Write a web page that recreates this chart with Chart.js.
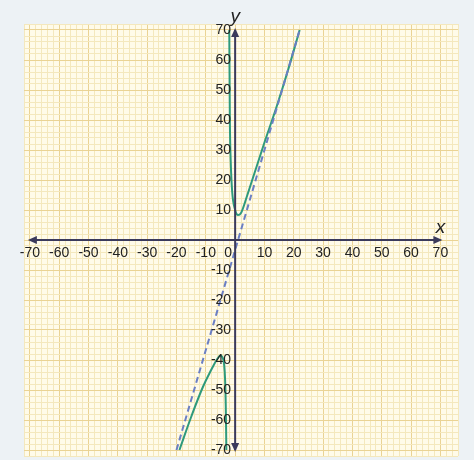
<!DOCTYPE html>
<html>
<head>
<meta charset="utf-8">
<script src="https://cdn.jsdelivr.net/npm/chart.js@4"></script>
<style>
  body { margin: 0; background: #edf2f5; }
  #wrap { width: 474px; height: 460px; }
</style>
</head>
<body>
<div id="wrap"><canvas id="grafico"></canvas></div>
<script>
// dados
const curvaSuperior = [
    {x: -2, y: 70}, {x: -1.9, y: 55}, {x: -1.8, y: 40}, {x: -1.5, y: 26}, {x: -1, y: 16},
    {x: 0, y: 10}, {x: 1, y: 8.3}, {x: 2, y: 9}, {x: 4, y: 14.5}, {x: 6, y: 20.5},
    {x: 8, y: 26.5}, {x: 10, y: 32.5}, {x: 14, y: 44}, {x: 18, y: 56.5}, {x: 22, y: 70}
];
const curvaInferior = [
    {x: -19, y: -70}, {x: -15, y: -59}, {x: -11, y: -49}, {x: -8, y: -43}, {x: -6, y: -39.5},
    {x: -5, y: -38.5}, {x: -4, y: -40}, {x: -3.5, y: -45}, {x: -3.2, y: -55}, {x: -3, y: -70}
];
const assintota = [{x: -20, y: -70}, {x: 22, y: 70}];
const rotulosX = [-70, -60, -50, -40, -30, -20, -10, 10, 20, 30, 40, 50, 60, 70];
const rotulosY = [70, 60, 50, 40, 30, 20, 10, -10, -20, -30, -40, -50, -60, -70];

// eixos desenhados no meio do grafico
const eixos = {
    id: 'eixos',
    beforeDraw(chart) {
        const {ctx, chartArea: a} = chart;
        ctx.save();
        ctx.fillStyle = '#fffbe9';
        ctx.fillRect(a.left, a.top, a.right - a.left, a.bottom - a.top);
        ctx.restore();
    },
    afterDatasetsDraw(chart) {
        const {ctx, scales: {x, y}} = chart;
        const x0 = x.getPixelForValue(0), y0 = y.getPixelForValue(0);
        const xl = x.getPixelForValue(-70), xr = x.getPixelForValue(70);
        const yt = y.getPixelForValue(70), yb = y.getPixelForValue(-70);
        ctx.save();
        ctx.strokeStyle = '#3b3a5c';
        ctx.fillStyle = '#3b3a5c';
        ctx.lineWidth = 2;
        ctx.beginPath();
        ctx.moveTo(xl, y0); ctx.lineTo(xr, y0);
        ctx.moveTo(x0, yt); ctx.lineTo(x0, yb);
        ctx.stroke();
        function seta(px, py, dx, dy) {
            ctx.beginPath();
            ctx.moveTo(px, py);
            ctx.lineTo(px - dx * 9 - dy * 4, py - dy * 9 - dx * 4);
            ctx.lineTo(px - dx * 9 + dy * 4, py - dy * 9 + dx * 4);
            ctx.closePath();
            ctx.fill();
        }
        seta(xl - 2, y0, -1, 0); seta(xr + 2, y0, 1, 0);
        seta(x0, yt - 2, 0, -1); seta(x0, yb + 2, 0, 1);

        ctx.fillStyle = '#222';
        ctx.font = '14px "Liberation Sans", Arial, sans-serif';
        ctx.textAlign = 'center';
        ctx.textBaseline = 'top';
        rotulosX.forEach(v => ctx.fillText(v, x.getPixelForValue(v), y0 + 6));
        ctx.textAlign = 'right';
        ctx.textBaseline = 'middle';
        rotulosY.forEach(v => ctx.fillText(v, x0 - 4, y.getPixelForValue(v)));
        ctx.textBaseline = 'top';
        ctx.fillText('0', x0 - 3, y0 + 6);
        ctx.font = 'italic 19px "Liberation Sans", Arial, sans-serif';
        ctx.textAlign = 'center';
        ctx.textBaseline = 'bottom';
        ctx.fillText('x', xr, y0 - 3);
        ctx.fillText('y', x0, yt - 4);
        ctx.restore();
    }
};

function corGrade(c) {
    const v = c.tick.value;
    return v % 10 === 0 ? '#ead394' : '#f4e8bd';
}

const config = {
    type: 'scatter',
    data: {
        datasets: [
            { data: assintota, showLine: true, borderColor: '#6b7fc4', borderWidth: 2,
              borderDash: [6, 4], pointRadius: 0 },
            { data: curvaSuperior, showLine: true, borderColor: '#2e9a7c', borderWidth: 2,
              pointRadius: 0, cubicInterpolationMode: 'monotone' },
            { data: curvaInferior, showLine: true, borderColor: '#2e9a7c', borderWidth: 2,
              pointRadius: 0, tension: 0.4 }
        ]
    },
    options: {
        responsive: true,
        maintainAspectRatio: false,
        animation: false,
        layout: { padding: { left: 24, right: 16, top: 24, bottom: 4 } },
        plugins: { legend: { display: false }, tooltip: { enabled: false } },
        scales: {
            x: { type: 'linear', min: -72, max: 76, border: { display: false },
                 ticks: { display: false, stepSize: 2 },
                 grid: { color: corGrade, lineWidth: 1, drawTicks: false } },
            y: { type: 'linear', min: -72, max: 72, border: { display: false },
                 ticks: { display: false, stepSize: 2 },
                 grid: { color: corGrade, lineWidth: 1, drawTicks: false } }
        }
    },
    plugins: [eixos]
};

document.addEventListener('DOMContentLoaded', function() {
    const ctx = document.getElementById('grafico').getContext('2d');
    new Chart(ctx, config);
});
</script>
</body>
</html>
